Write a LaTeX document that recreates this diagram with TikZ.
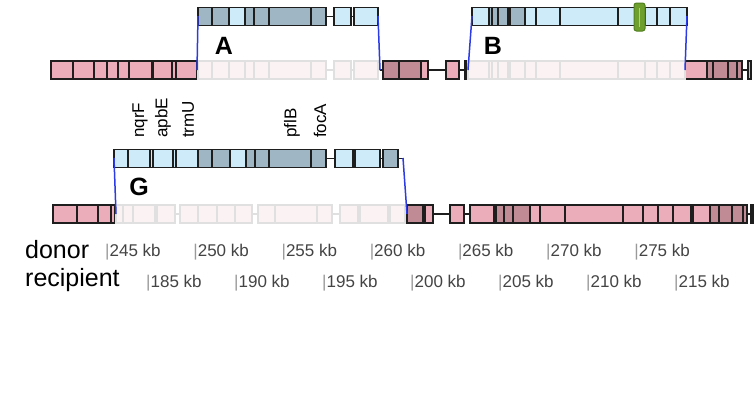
\documentclass[tikz,border=0pt]{standalone}
\usepackage{fontspec}
\setmainfont{Liberation Sans}
\usepackage{xcolor}
\usetikzlibrary{positioning}

\definecolor{pk}{HTML}{EBADB9}
\definecolor{dk}{HTML}{C08B94}
\definecolor{lb}{HTML}{CDEBF8}
\definecolor{gb}{HTML}{9FB7C5}
\definecolor{gh}{HTML}{FAF2F3}
\definecolor{ghline}{HTML}{E0E0E0}
\definecolor{edge}{HTML}{1E1E1E}
\definecolor{joinblue}{HTML}{2B3BE6}
\definecolor{greenmk}{HTML}{6E9E2C}
\definecolor{greenedge}{HTML}{4F8020}
\definecolor{kbtext}{HTML}{444444}
\definecolor{kbbar}{HTML}{9A9A9A}

\tikzset{
  gene/.style={draw=edge, line width=1.8pt},
  ghost/.style={draw=ghline, fill=gh, line width=1.8pt},
  spine/.style={draw=edge, line width=1.5pt},
  faint/.style={draw=ghline, line width=1.5pt},
  joinline/.style={draw=joinblue, line width=1.5pt},
  genelbl/.style={rotate=90, anchor=west, inner sep=0pt, font=\fontsize{17}{17}\selectfont},
  kb/.style={anchor=base west, inner sep=0pt, text=kbtext, font=\fontsize{17}{17}\selectfont},
  axislbl/.style={anchor=base west, inner sep=0pt, font=\fontsize{25}{25}\selectfont},
  tag/.style={inner sep=0pt, font=\bfseries\fontsize{25}{25}\selectfont}
}

\begin{document}
\begin{tikzpicture}[x=1pt, y=-1pt]
\useasboundingbox[fill=white] (0,0) rectangle (756,397);

% Recipient track 1 (with ghosts of A and B)
\draw[spine] (51,70) -- (197,70);
\draw[faint] (197,70) -- (380,70);
\draw[spine] (380,70) -- (467,70);
\draw[faint] (467,70) -- (685,70);
\draw[spine] (685,70) -- (751,70);
\foreach \a/\b/\c in {51/73/pk, 73/94/pk, 94/107/pk, 107/118/pk, 118/129/pk, 129/152/pk,
  153/172/pk, 172/176/pk, 176/197/pk, 383/399/dk, 399/421/dk, 421/428/pk, 446/459/pk,
  465/467/pk, 685/707/pk, 707/713/dk, 713/728/dk, 728/737/dk, 737/742/dk, 748/751/pk}
  \draw[gene, fill=\c] (\a,61) rectangle (\b,79);
\foreach \a/\b in {198/212, 212/229, 229/245, 245/254, 254/269, 269/311, 311/326, 334/351, 354/378,
  468/489, 489/492, 492/498, 498/508, 510/525, 525/536, 536/560, 560/618, 618/645, 645/657,
  657/670, 670/685}
  \draw[ghost] (\a,61) rectangle (\b,79);

% Insert A
\draw[spine] (198,16.5) -- (378,16.5);
\foreach \a/\b/\c in {198/212/gb, 212/229/gb, 229/245/lb, 245/254/gb, 254/269/gb, 269/311/gb,
  311/326/gb, 334/351/lb, 354/378/lb}
  \draw[gene, fill=\c] (\a,7.5) rectangle (\b,25.5);

% Insert B
\foreach \a/\b/\c in {472/489/lb, 489/492/gb, 492/498/gb, 498/508/gb, 510/525/gb, 525/536/lb,
  536/560/lb, 560/618/lb, 618/645/lb, 645/657/lb, 657/670/lb, 670/687/lb}
  \draw[gene, fill=\c] (\a,7.5) rectangle (\b,25.5);
\draw[draw=greenedge, fill=greenmk, line width=1pt, rounded corners=2.5pt] (634,3) rectangle (645,31);
\draw[draw=yellow!70!olive, line width=1.3pt] (639.5,8) -- (639.5,27);

% Recipient track 2 (with ghost of G)
\draw[spine] (53,214) -- (115,214);
\draw[faint] (115,214) -- (405,214);
\draw[spine] (405,214) -- (753,214);
\foreach \a/\b/\c in {53/77/pk, 77/98/pk, 98/111/pk, 111/115/pk, 407/423/dk, 425/433/pk,
  450/464/pk, 470/494/pk, 496/504/dk, 504/513/dk, 513/530/dk, 530/540/pk, 540/565/pk,
  565/623/pk, 623/643/pk, 643/658/pk, 658/673/pk, 673/691/pk, 693/710/pk, 710/719/dk,
  719/732/dk, 732/743/dk, 743/747/dk, 751/753/pk}
  \draw[gene, fill=\c] (\a,205) rectangle (\b,223);
\foreach \a/\b in {116/123, 123/133, 133/155, 157/175, 180/198, 198/217, 217/235, 235/252,
  258/275, 275/317, 317/332, 340/358, 360/388, 390/405}
  \draw[ghost] (\a,205) rectangle (\b,223);

% Insert G
\draw[spine] (114,158.5) -- (403,158.5);
\foreach \a/\b/\c in {114/128/lb, 128/150/lb, 150/153/lb, 153/173/lb, 173/176/lb, 176/198/lb,
  198/212/gb, 212/230/gb, 230/246/lb, 246/255/gb, 255/269/gb, 269/311/gb, 311/326/gb,
  335/353/lb, 355/380/lb, 383/398/gb}
  \draw[gene, fill=\c] (\a,149.5) rectangle (\b,167.5);

% Insertion ends
\coordinate (Atl) at (198,16);  \coordinate (Abl) at (197,70);
\coordinate (Atr) at (378,16);  \coordinate (Abr) at (380,70);
\coordinate (Btl) at (472,16);  \coordinate (Bbl) at (468,70);
\coordinate (Btr) at (687,16);  \coordinate (Bbr) at (685,70);
\coordinate (Gtl) at (114,158); \coordinate (Gbl) at (116,214);
\coordinate (Gtr) at (403,158); \coordinate (Gbr) at (407,214);
\draw[joinline] (Atl) -- (Abl);
\draw[joinline] (Atr) -- (Abr);
\draw[joinline] (Btl) -- (Bbl);
\draw[joinline] (Btr) -- (Bbr);
\draw[joinline] (Gtl) -- (Gbl);
\draw[joinline] (Gtr) -- (Gbr);

\node[tag] (tagA) at (224,46) {A};
\node[tag] (tagB) at (493,46) {B};
\node[tag] (tagG) at (139,187) {G};

% Gene names
\node[genelbl] (nqrF) at (140,138) {nqrF};
\node[genelbl] (apbE) at (163,138) {apbE};
\node[genelbl] (trmU) at (188,138) {trmU};
\node[genelbl] (pflB) at (292,138) {pflB};
\node[genelbl] (focA) at (320,138) {focA};

% Scales
\node[axislbl] (donor) at (25,258) {donor};
\node[axislbl] (recipient) at (25,286) {recipient};
\foreach \k [count=\i from 0] in {245,250,255,260,265,270,275}
  \node[kb] (d\k) at ({105+88.2*\i},256) {{\color{kbbar}|}\k\ kb};
\foreach \k [count=\i from 0] in {185,190,195,200,205,210,215}
  \node[kb] (r\k) at ({146+88*\i},287) {{\color{kbbar}|}\k\ kb};
\end{tikzpicture}
\end{document}
